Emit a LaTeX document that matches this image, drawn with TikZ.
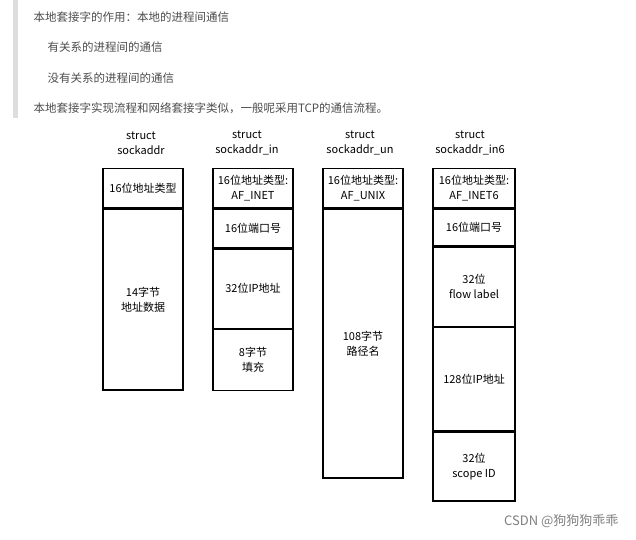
\documentclass[tikz,border=0pt]{standalone}
\usepackage{fontspec}
\setmainfont{Noto Sans CJK SC}
\usetikzlibrary{positioning}
\definecolor{txtgray}{HTML}{4D4D4D}
\definecolor{bargray}{HTML}{DDDDDD}
\tikzset{
  cell/.style={draw, line width=1.3pt, minimum width=80pt, align=center, inner sep=0pt, font=\fontsize{11}{15}\selectfont},
  head/.style={align=center, font=\fontsize{11}{15}\selectfont},
  para/.style={anchor=west, text=txtgray, font=\fontsize{11.5}{13}\selectfont}
}
\begin{document}
\begin{tikzpicture}[x=1pt, y=-1pt]
  \useasboundingbox[fill=white] (0,0) rectangle (636,539);
  \fill[bargray] (13,0) rectangle (18,118);
  \node[para] (l1) at (30,17) {本地套接字的作用：本地的进程间通信};
  \node[para] (l2) at (44,47) {有关系的进程间的通信};
  \node[para] (l3) at (44,78) {没有关系的进程间的通信};
  \node[para] (l4) at (30,108) {本地套接字实现流程和网络套接字类似，一般呢采用TCP的通信流程。};
  % sockaddr
  \node[head] (h1) at (141,143) {struct\\sockaddr};
  \node[cell, anchor=north, minimum height=39pt] (a1) at (143,168) {16位地址类型};
  \node[cell, minimum height=181pt, below=0pt of a1] (a2) {14字节\\地址数据};
  % sockaddr_in
  \node[head] (h2) at (247,143) {struct\\sockaddr\_in};
  \node[cell, anchor=north, minimum height=39pt] (b1) at (253,168) {16位地址类型:\\AF\_INET};
  \node[cell, minimum height=39pt, below=0pt of b1] (b2) {16位端口号};
  \node[cell, minimum height=79pt, below=0pt of b2] (b3) {32位IP地址};
  \node[cell, minimum height=61pt, below=0pt of b3] (b4) {8字节\\填充};
  % sockaddr_un
  \node[head] (h3) at (360,143) {struct\\sockaddr\_un};
  \node[cell, anchor=north, minimum height=39pt] (c1) at (363,168) {16位地址类型:\\AF\_UNIX};
  \node[cell, minimum height=269pt, below=0pt of c1] (c2) {108字节\\路径名};
  % sockaddr_in6
  \node[head] (h4) at (470,143) {struct\\sockaddr\_in6};
  \node[cell, anchor=north, minimum height=39pt, minimum width=82pt] (d1) at (474,168) {16位地址类型:\\AF\_INET6};
  \node[cell, minimum height=37pt, minimum width=82pt, below=0pt of d1] (d2) {16位端口号};
  \node[cell, minimum height=79pt, minimum width=82pt, below=0pt of d2] (d3) {32位\\flow label};
  \node[cell, minimum height=103pt, minimum width=82pt, below=0pt of d3] (d4) {128位IP地址};
  \node[cell, minimum height=69pt, minimum width=82pt, below=0pt of d4] (d5) {32位\\scope ID};
  \node[anchor=east, text=gray, font=\fontsize{13}{15}\selectfont] (wm) at (622,521) {CSDN @狗狗狗乖乖};
\end{tikzpicture}
\end{document}
